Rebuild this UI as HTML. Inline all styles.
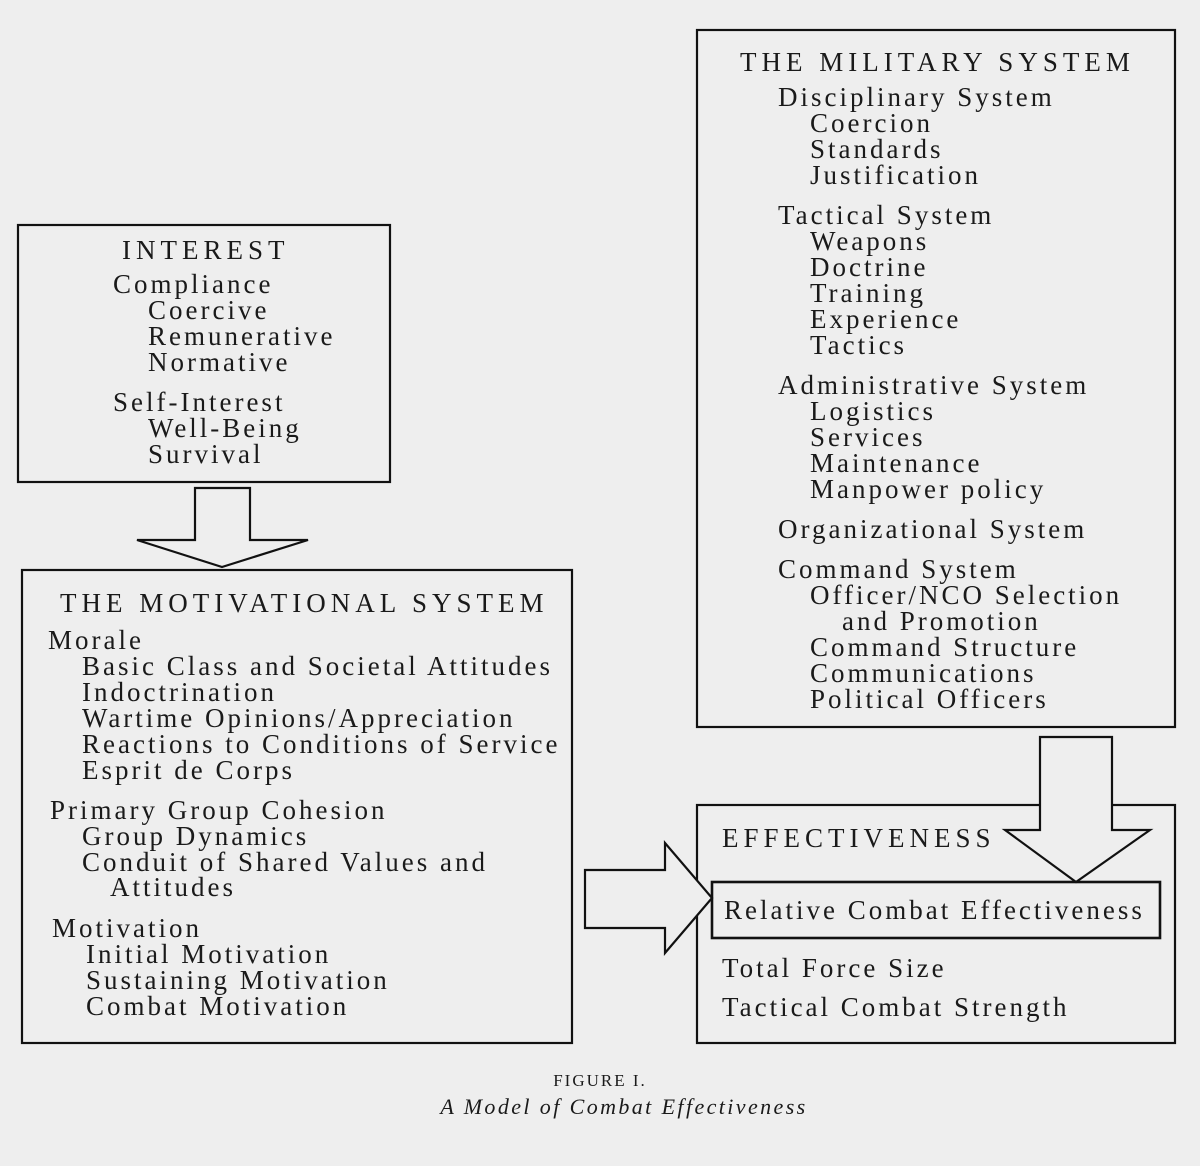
<!DOCTYPE html>
<html><head><meta charset="utf-8"><style>
html,body{margin:0;padding:0;background:#eeeeee}
svg{display:block}
text{font-family:"Liberation Serif",serif;font-size:27px;letter-spacing:3px;fill:#1a1a1a}
text.t{letter-spacing:5px}
</style></head><body>
<svg width="1200" height="1166" viewBox="0 0 1200 1166" xmlns="http://www.w3.org/2000/svg">
<rect width="1200" height="1166" fill="#eeeeee"/>
<g fill="none" stroke="#111" stroke-width="2.2">
<rect x="18" y="225" width="372" height="257"/>
<rect x="22" y="570" width="550" height="473"/>
<rect x="697" y="30" width="478" height="697"/>
<rect x="697" y="805" width="478" height="238"/>
<rect x="712" y="882" width="448" height="56" stroke-width="2.6"/>
<path d="M195,488 L250,488 L250,540 L308,540 L222,567 L137,540 L195,540 Z" fill="#eeeeee"/>
<path d="M1040,737 L1112,737 L1112,830 L1150,830 L1076,882 L1005,830 L1040,830 Z" fill="#eeeeee"/>
<path d="M585,870 L665,870 L665,843 L712,898 L665,953 L665,928 L585,928 Z" fill="#eeeeee"/>
</g>
<text class="t" x="122" y="259">INTEREST</text>
<text x="113" y="293">Compliance</text>
<text x="148" y="319">Coercive</text>
<text x="148" y="345">Remunerative</text>
<text x="148" y="371">Normative</text>
<text x="113" y="411">Self-Interest</text>
<text x="148" y="437">Well-Being</text>
<text x="148" y="463">Survival</text>

<text class="t" x="60" y="612">THE MOTIVATIONAL SYSTEM</text>
<text x="48" y="649">Morale</text>
<text x="82" y="675">Basic Class and Societal Attitudes</text>
<text x="82" y="701">Indoctrination</text>
<text x="82" y="727">Wartime Opinions/Appreciation</text>
<text x="82" y="753">Reactions to Conditions of Service</text>
<text x="82" y="779">Esprit de Corps</text>
<text x="50" y="819">Primary Group Cohesion</text>
<text x="82" y="845">Group Dynamics</text>
<text x="82" y="871">Conduit of Shared Values and</text>
<text x="110" y="896">Attitudes</text>
<text x="52" y="937">Motivation</text>
<text x="86" y="963">Initial Motivation</text>
<text x="86" y="989">Sustaining Motivation</text>
<text x="86" y="1015">Combat Motivation</text>

<text class="t" x="740" y="71">THE MILITARY SYSTEM</text>
<text x="778" y="106">Disciplinary System</text>
<text x="810" y="132">Coercion</text>
<text x="810" y="158">Standards</text>
<text x="810" y="184">Justification</text>
<text x="778" y="224">Tactical System</text>
<text x="810" y="250">Weapons</text>
<text x="810" y="276">Doctrine</text>
<text x="810" y="302">Training</text>
<text x="810" y="328">Experience</text>
<text x="810" y="354">Tactics</text>
<text x="778" y="394">Administrative System</text>
<text x="810" y="420">Logistics</text>
<text x="810" y="446">Services</text>
<text x="810" y="472">Maintenance</text>
<text x="810" y="498">Manpower policy</text>
<text x="778" y="538">Organizational System</text>
<text x="778" y="578">Command System</text>
<text x="810" y="604">Officer/NCO Selection</text>
<text x="842" y="630">and Promotion</text>
<text x="810" y="656">Command Structure</text>
<text x="810" y="682">Communications</text>
<text x="810" y="708">Political Officers</text>

<text class="t" x="722" y="847">EFFECTIVENESS</text>
<text x="724" y="919">Relative Combat Effectiveness</text>
<text x="722" y="977">Total Force Size</text>
<text x="722" y="1016">Tactical Combat Strength</text>

<text x="600" y="1086" text-anchor="middle" style="font-size:17px;letter-spacing:2px">FIGURE I.</text>
<text x="624" y="1114" text-anchor="middle" style="font-size:22px;font-style:italic;letter-spacing:2.4px">A Model of Combat Effectiveness</text>
</svg>
</body></html>
